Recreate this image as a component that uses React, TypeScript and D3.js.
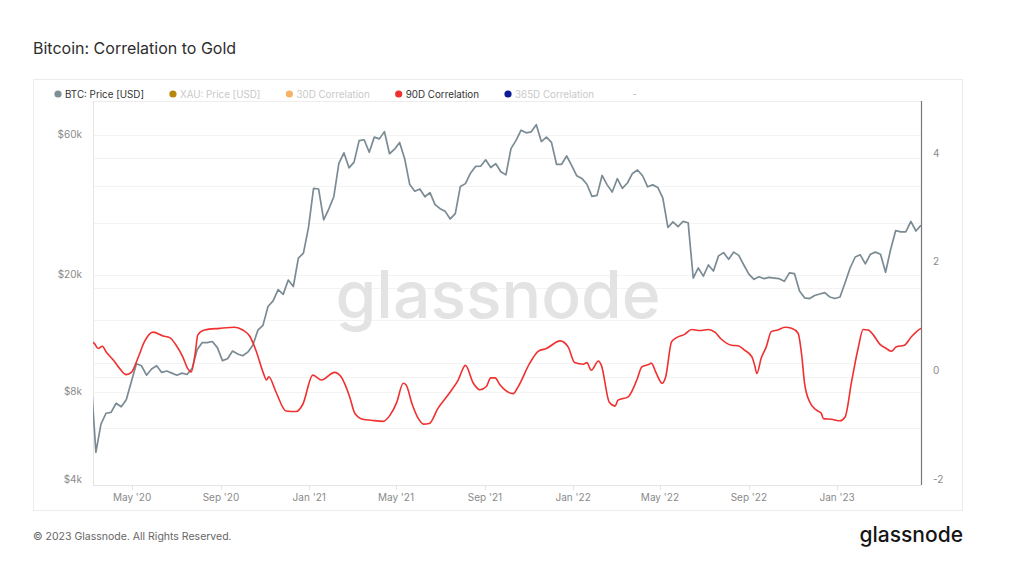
import React, { useRef, useEffect } from "react";
import * as d3 from "d3";

const WIDTH = 1024;
const HEIGHT = 572;

// BTC price [USD], weekly closes (Thursdays) starting 2020-03-05
const btcStart = "2020-03-05";
const btc2020 = [
  9050, 4970, 6200, 6750, 6800, 7300, 7100, 7500, 8650, 9950, 9800, 9100, 9550,
  9800, 9300, 9400, 9250, 9100, 9250, 9150, 9600, 11100, 11750, 11750, 11850,
  11300, 10200, 10350, 11000, 10750, 10600, 10900, 11500, 12950, 13450, 15600,
  16300, 17800, 17150, 19200, 18250, 22800, 23700, 29000,
];
const btc2021 = [
  39400, 39200, 30800, 33500, 36900, 47900, 52100, 46300, 48400, 57300, 57700,
  52300, 58900, 58100, 61500, 51700, 53600, 56500, 49700, 40600, 38500, 39200,
  36900, 38100, 34700, 33600, 32900, 31000, 32300, 40000, 40900, 44400, 46800,
  46900, 49300, 46400, 47800, 44900, 43800, 53800, 57400, 62200, 60900, 61400,
  64900, 56900, 58900, 56500, 47600, 47600, 50800, 47100,
];
const btc2022 = [
  43500, 42600, 40700, 37000, 37300, 43600, 40500, 38300, 42500, 39400, 41100,
  44300, 45500, 43500, 39900, 40500, 39700, 36500, 29000, 30300, 29200, 30400,
  30100, 19500, 21100, 19800, 21600, 20600, 23200, 23800, 22600, 23900, 23300,
  21600, 20100, 19300, 19700, 19400, 19600, 19500, 19400, 19000, 20300, 20200,
  17600, 16700, 16600, 17000, 17200, 17400, 16800, 16600,
];
const btc2023 = [
  16800, 18800, 21100, 23000, 23400, 21800, 23500, 23900, 23500, 20400, 24400,
  28300, 28000, 28000, 30400, 28200, 29500,
];
const btcPrice = [...btc2020, ...btc2021, ...btc2022, ...btc2023];

// 90D correlation, read as (days since 2020-03-08, value)
const corrStart = "2020-03-08";
const corrDays = [
  0, 2, 7, 13, 18, 28, 37, 46, 53, 62, 71, 83, 97, 106, 115, 124, 131, 136, 141,
  145, 154, 175, 196, 207, 217, 226, 235, 240, 243, 253, 267, 281, 290, 304, 316,
  334, 343, 355, 362, 373, 385, 401, 411, 420, 429, 433, 441, 450, 457, 465, 477,
  494, 505, 515, 526, 535, 544, 550, 556, 563, 581, 588, 604, 616, 627, 646, 657,
  666, 678, 683, 689, 699, 703, 714, 722, 726, 740, 752, 759, 769, 772, 779, 787,
  792, 800, 807, 818, 828, 839, 851, 860, 869, 883, 892, 901, 911, 915, 918, 924,
  931, 938, 947, 957, 966, 975, 980, 984, 991, 1000, 1007, 1010, 1021, 1033, 1040,
  1049, 1058, 1065, 1072, 1079, 1088, 1097, 1104, 1111, 1122, 1132, 1139, 1145,
];
const corr90 = [
  0.53, 0.5, 0.41, 0.45, 0.35, 0.2, 0.04, -0.07, -0.03, 0.23, 0.53, 0.71, 0.64,
  0.61, 0.47, 0.26, 0.04, -0.02, 0.29, 0.66, 0.75, 0.78, 0.8, 0.75, 0.63, 0.35,
  -0.02, -0.17, -0.11, -0.39, -0.74, -0.75, -0.62, -0.08, -0.17, -0.03, -0.11,
  -0.48, -0.78, -0.89, -0.91, -0.93, -0.81, -0.58, -0.23, -0.26, -0.6, -0.88,
  -0.98, -0.97, -0.69, -0.39, -0.17, 0.1, -0.23, -0.35, -0.29, -0.13, -0.13,
  -0.26, -0.42, -0.29, 0.14, 0.36, 0.41, 0.55, 0.44, 0.15, 0.12, 0.15, 0.01, 0.18,
  0.1, -0.58, -0.65, -0.54, -0.48, -0.17, 0.07, 0.12, 0.14, -0.05, -0.23, -0.11,
  0.53, 0.61, 0.67, 0.76, 0.74, 0.76, 0.71, 0.58, 0.47, 0.46, 0.38, 0.26, 0.1,
  -0.05, 0.23, 0.44, 0.72, 0.75, 0.8, 0.78, 0.69, 0.29, -0.23, -0.57, -0.72,
  -0.78, -0.88, -0.89, -0.92, -0.85, -0.2, 0.41, 0.76, 0.75, 0.66, 0.49, 0.41,
  0.36, 0.44, 0.47, 0.63, 0.72, 0.78,
];

const xDomain = ["2020-03-08", "2023-04-27"];
const priceTicks = [4000, 8000, 20000, 60000];
const priceGrid = [6000, 8000, 9000, 10000, 14000, 18000, 20000, 30000, 40000, 50000, 60000];
const corrTicks = [-2, 0, 2, 4];

const legendLabels = [
  "BTC: Price [USD]",
  "XAU: Price [USD]",
  "30D Correlation",
  "90D Correlation",
  "365D Correlation",
];
const legendColors = ["#7d8e97", "#b8860b", "#f7b267", "#f0302f", "#0b1a96"];
const legendActive = [true, false, false, true, false];

const FONT = "Inter, 'Noto Sans', sans-serif";

const App = () => {
  const ref = useRef<SVGSVGElement | null>(null);

  useEffect(() => {
    document.body.style.margin = "0";
    const svg = d3.select(ref.current);
    svg.selectAll("*").remove();

    const left = 93;
    const right = 921;
    const top = 101;
    const bottom = 485;

    const x = d3
      .scaleUtc()
      .domain(xDomain.map((d) => new Date(d)))
      .range([left, right]);
    const yPrice = d3.scaleLog().domain([3845, 78200]).range([bottom, top]);
    const yCorr = d3.scaleLinear().domain([-2.1, 4.96]).range([bottom, top]);

    // title
    svg
      .append("text")
      .attr("x", 33)
      .attr("y", 54)
      .attr("font-family", FONT)
      .attr("font-size", 16)
      .attr("font-weight", 400)
      .attr("fill", "#2e2e2e")
      .text("Bitcoin: Correlation to Gold");

    // card
    svg
      .append("rect")
      .attr("x", 33.5)
      .attr("y", 79.5)
      .attr("width", 929)
      .attr("height", 431)
      .attr("fill", "#fff")
      .attr("stroke", "#ececec");

    // legend
    const legend = svg.append("g").attr("font-family", FONT).attr("font-size", 9.8);
    let lx = 58;
    legendLabels.forEach((label, i) => {
      legend
        .append("circle")
        .attr("cx", lx)
        .attr("cy", 94)
        .attr("r", 3.6)
        .attr("fill", legendColors[i]);
      const t = legend
        .append("text")
        .attr("x", lx + 7)
        .attr("y", 97.5)
        .attr("fill", legendActive[i] ? "#333" : "#c9c9c9")
        .text(label);
      const w = (t.node() as SVGTextElement).getComputedTextLength();
      lx += 7 + w + 29;
    });
    legend
      .append("text")
      .attr("x", lx + 9)
      .attr("y", 97.5)
      .attr("fill", "#bbb")
      .text("-");

    // gridlines
    svg
      .append("g")
      .selectAll("line")
      .data(priceGrid)
      .enter()
      .append("line")
      .attr("x1", left)
      .attr("x2", right)
      .attr("y1", (d) => Math.round(yPrice(d)) + 0.5)
      .attr("y2", (d) => Math.round(yPrice(d)) + 0.5)
      .attr("stroke", "#f3f3f3");

    // frame lines
    svg
      .append("line")
      .attr("x1", left)
      .attr("x2", right)
      .attr("y1", top + 0.5)
      .attr("y2", top + 0.5)
      .attr("stroke", "#ededed");
    svg
      .append("line")
      .attr("x1", left + 0.5)
      .attr("x2", left + 0.5)
      .attr("y1", top)
      .attr("y2", bottom)
      .attr("stroke", "#e4e4e4");
    svg
      .append("line")
      .attr("x1", left)
      .attr("x2", right)
      .attr("y1", bottom + 0.5)
      .attr("y2", bottom + 0.5)
      .attr("stroke", "#e4e4e4");

    // watermark
    svg
      .append("text")
      .attr("x", 498)
      .attr("y", 318)
      .attr("text-anchor", "middle")
      .attr("font-family", FONT)
      .attr("font-size", 66)
      .attr("font-weight", 500)
      .attr("fill", "#e3e3e3")
      .text("glassnode");

    // clip
    svg
      .append("clipPath")
      .attr("id", "plot-clip")
      .append("rect")
      .attr("x", left)
      .attr("y", top)
      .attr("width", right - left)
      .attr("height", bottom - top);

    const btcData = btcPrice.map((v, i) => ({
      date: d3.utcWeek.offset(new Date(btcStart), i),
      value: v,
    }));
    const corrData = corrDays.map((d, i) => ({
      date: d3.utcDay.offset(new Date(corrStart), d),
      value: corr90[i],
    }));

    const btcLine = d3
      .line<{ date: Date; value: number }>()
      .x((d) => x(d.date))
      .y((d) => yPrice(d.value));
    const corrLine = d3
      .line<{ date: Date; value: number }>()
      .x((d) => x(d.date))
      .y((d) => yCorr(d.value))
      .curve(d3.curveMonotoneX);

    const plot = svg.append("g").attr("clip-path", "url(#plot-clip)");
    plot
      .append("path")
      .datum(btcData)
      .attr("d", btcLine)
      .attr("fill", "none")
      .attr("stroke", "#7a8b94")
      .attr("stroke-width", 1.7)
      .attr("stroke-linejoin", "round");
    plot
      .append("path")
      .datum(corrData)
      .attr("d", corrLine)
      .attr("fill", "none")
      .attr("stroke", "#f0302f")
      .attr("stroke-width", 1.6)
      .attr("stroke-linejoin", "round");

    // right boundary
    svg
      .append("line")
      .attr("x1", right + 0.5)
      .attr("x2", right + 0.5)
      .attr("y1", top)
      .attr("y2", bottom)
      .attr("stroke", "#777")
      .attr("stroke-width", 1.2);

    // left axis labels
    svg
      .append("g")
      .attr("font-family", FONT)
      .attr("font-size", 10)
      .attr("fill", "#8a8a8a")
      .selectAll("text")
      .data(priceTicks)
      .enter()
      .append("text")
      .attr("x", 82)
      .attr("y", (d) => yPrice(d) + 3.5)
      .attr("text-anchor", "end")
      .text((d) => `$${d / 1000}k`);

    // right axis labels
    svg
      .append("g")
      .attr("font-family", FONT)
      .attr("font-size", 10)
      .attr("fill", "#8a8a8a")
      .selectAll("text")
      .data(corrTicks)
      .enter()
      .append("text")
      .attr("x", 933)
      .attr("y", (d) => yCorr(d) + 3.5)
      .text((d) => `${d}`);

    // bottom axis
    const xTicks = x.ticks(d3.utcMonth.every(4)!);
    const fmt = d3.utcFormat("%b '%y");
    const xAxis = svg.append("g").attr("font-family", FONT).attr("font-size", 10);
    xAxis
      .selectAll("line")
      .data(xTicks)
      .enter()
      .append("line")
      .attr("x1", (d) => Math.round(x(d)) + 0.5)
      .attr("x2", (d) => Math.round(x(d)) + 0.5)
      .attr("y1", bottom)
      .attr("y2", bottom + 5)
      .attr("stroke", "#e4e4e4");
    xAxis
      .selectAll("text")
      .data(xTicks)
      .enter()
      .append("text")
      .attr("x", (d) => x(d))
      .attr("y", 501)
      .attr("text-anchor", "middle")
      .attr("fill", "#8a8a8a")
      .text((d) => fmt(d));

    // footer
    svg
      .append("text")
      .attr("x", 33)
      .attr("y", 540)
      .attr("font-family", FONT)
      .attr("font-size", 10.5)
      .attr("fill", "#666")
      .text("© 2023 Glassnode. All Rights Reserved.");
    svg
      .append("text")
      .attr("x", 963)
      .attr("y", 542)
      .attr("text-anchor", "end")
      .attr("font-family", FONT)
      .attr("font-size", 21)
      .attr("font-weight", 500)
      .attr("fill", "#151515")
      .text("glassnode");

    return () => {
      svg.selectAll("*").remove();
    };
  }, []);

  return (
    <svg
      ref={ref}
      width={WIDTH}
      height={HEIGHT}
      style={{ display: "block", background: "#fff" }}
    />
  );
};

export default App;
